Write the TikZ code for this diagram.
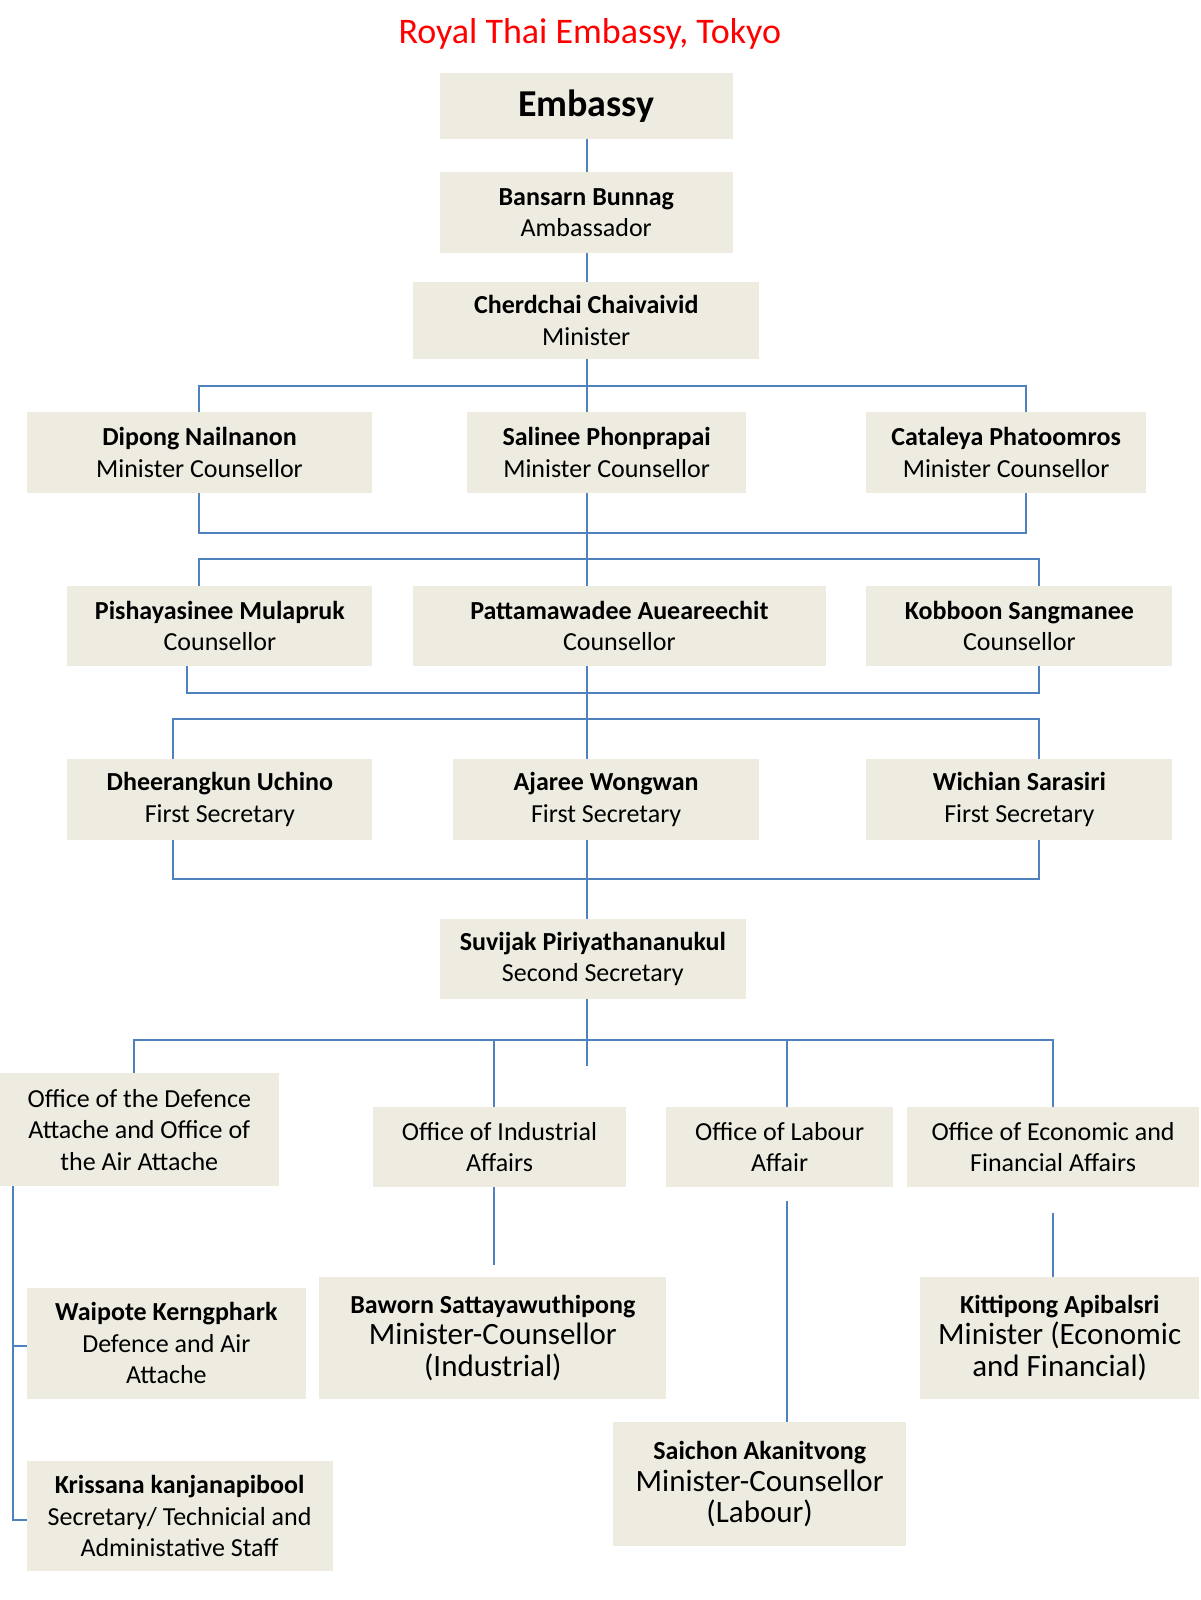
\documentclass[tikz,border=0pt]{standalone}
\usepackage{fontspec}
\setmainfont{Carlito}
\begin{document}
\begin{tikzpicture}[x=1.0204pt,y=-1.0204pt,
  bx/.style={fill=boxc,draw=none,inner sep=0pt,align=center,font=\fontsize{26}{31.5}\selectfont},
  ln/.style={draw=lnc,line width=2pt}]
\definecolor{boxc}{HTML}{EEECE1}
\definecolor{lnc}{HTML}{4F81BD}
\useasboundingbox (0,0) rectangle (1176,1568);
\newcommand{\bx}[6]{\node[bx,minimum width={(#4-#2)*1.0204pt},minimum height={(#5-#3)*1.0204pt}] (#1) at ({(#2+#4)/2},{(#3+#5)/2}) {#6};}
\newcommand{\bigtxt}{\fontsize{31}{36}\selectfont}
\node[text=red,font=\fontsize{36}{40}\selectfont] (title) at (578,33) {Royal Thai Embassy, Tokyo};
% lines
\draw[ln] (575,136) -- (575,1045);
\draw[ln] (195,404) -- (195,378) -- (1005,378) -- (1005,404);
\draw[ln] (195,483) -- (195,522) -- (1005,522) -- (1005,483);
\draw[ln] (195,574) -- (195,548) -- (1018,548) -- (1018,574);
\draw[ln] (183,653) -- (183,679) -- (1018,679) -- (1018,653);
\draw[ln] (170,744) -- (170,705) -- (1018,705) -- (1018,744);
\draw[ln] (170,823) -- (170,861) -- (1018,861) -- (1018,823);
\draw[ln] (131,1052) -- (131,1019) -- (1032,1019) -- (1032,1085);
\draw[ln] (484,1019) -- (484,1085);
\draw[ln] (771,1019) -- (771,1085);
\draw[ln] (484,1163) -- (484,1240);
\draw[ln] (771,1177) -- (771,1394);
\draw[ln] (1032,1189) -- (1032,1251);
\draw[ln] (13,1162) -- (13,1490) -- (26,1490);
\draw[ln] (13,1319) -- (26,1319);
% boxes
\bx{emb}{431}{72}{718}{136}{\fontsize{38}{40}\selectfont\bfseries Embassy}
\bx{ban}{431}{169}{718}{248}{\textbf{Bansarn Bunnag}\\Ambassador}
\bx{che}{405}{276}{744}{352}{\textbf{Cherdchai Chaivaivid}\\Minister}
\bx{dip}{26}{404}{365}{483}{\textbf{Dipong Nailnanon}\\Minister Counsellor}
\bx{sal}{458}{404}{731}{483}{\textbf{Salinee Phonprapai}\\Minister Counsellor}
\bx{cat}{849}{404}{1123}{483}{\textbf{Cataleya Phatoomros}\\Minister Counsellor}
\bx{pis}{66}{574}{365}{653}{\textbf{Pishayasinee Mulapruk}\\Counsellor}
\bx{pat}{405}{574}{809}{653}{\textbf{Pattamawadee Aueareechit}\\Counsellor}
\bx{kob}{849}{574}{1149}{653}{\textbf{Kobboon Sangmanee}\\Counsellor}
\bx{dhe}{66}{744}{365}{823}{\textbf{Dheerangkun Uchino}\\First Secretary}
\bx{aja}{444}{744}{744}{823}{\textbf{Ajaree Wongwan}\\First Secretary}
\bx{wic}{849}{744}{1149}{823}{\textbf{Wichian Sarasiri}\\First Secretary}
\bx{suv}{431}{901}{731}{979}{\textbf{Suvijak Piriyathananukul}\\Second Secretary}
\bx{def}{0}{1052}{273}{1162}{Office of the Defence\\Attache and Office of\\the Air Attache}
\bx{ind}{366}{1085}{613}{1163}{Office of Industrial\\Affairs}
\bx{lab}{653}{1085}{875}{1163}{Office of Labour\\Affair}
\bx{eco}{889}{1085}{1175}{1163}{Office of Economic and\\Financial Affairs}
\bx{wai}{26}{1262}{300}{1371}{\textbf{Waipote Kerngphark}\\Defence and Air\\Attache}
\bx{baw}{313}{1251}{653}{1371}{\textbf{Baworn Sattayawuthipong}\\{\bigtxt Minister-Counsellor}\\{\bigtxt (Industrial)}}
\bx{kit}{902}{1251}{1175}{1371}{\textbf{Kittipong Apibalsri}\\{\bigtxt Minister (Economic}\\{\bigtxt and Financial)}}
\bx{sai}{601}{1394}{888}{1515}{\textbf{Saichon Akanitvong}\\{\bigtxt Minister-Counsellor}\\{\bigtxt (Labour)}}
\bx{kri}{26}{1432}{326}{1540}{\textbf{Krissana kanjanapibool}\\Secretary/ Technicial and\\Administative Staff}
\end{tikzpicture}
\end{document}
